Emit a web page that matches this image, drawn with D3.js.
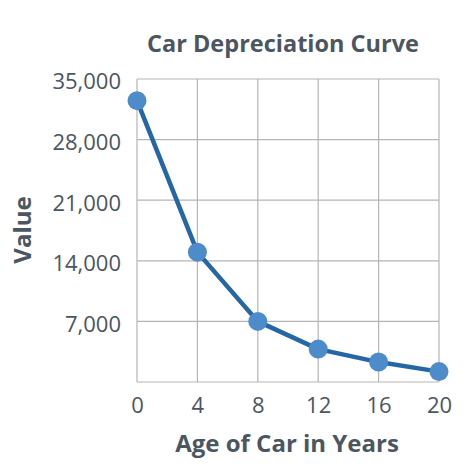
<!DOCTYPE html>
<html>
<head>
<meta charset="utf-8">
<script src="https://cdn.jsdelivr.net/npm/d3@7"></script>
<style>
  body { margin: 0; background: #fff; }
  text { font-family: "Open Sans", Lato, sans-serif; fill: #4b5661; }
</style>
</head>
<body>
<svg id="chart" width="474" height="474"></svg>
<script>
// chart data
const years = [0, 4, 8, 12, 16, 20];
const values = [32500, 15000, 7000, 3800, 2300, 1200];
const yTicks = [7000, 14000, 21000, 28000, 35000];
const xTicks = [0, 4, 8, 12, 16, 20];

const svg = d3.select("#chart");

const margin = { top: 79, right: 35, bottom: 92, left: 137 },
  width = 474 - margin.left - margin.right,
  height = 474 - margin.top - margin.bottom;

const x = d3.scaleLinear().domain([0, 20]).range([0, width]);
const y = d3.scaleLinear().domain([0, 35000]).range([height, 0]);

const g = svg.append("g")
  .attr("transform", "translate(" + margin.left + "," + margin.top + ")");

// grid lines
g.selectAll(".vgrid")
  .data(xTicks)
  .enter().append("line")
  .attr("x1", d => x(d)).attr("x2", d => x(d))
  .attr("y1", 0).attr("y2", height)
  .attr("stroke", "#b5b5b5").attr("stroke-width", 1.2);

g.selectAll(".hgrid")
  .data([0].concat(yTicks))
  .enter().append("line")
  .attr("x1", 0).attr("x2", width)
  .attr("y1", d => y(d)).attr("y2", d => y(d))
  .attr("stroke", "#b5b5b5").attr("stroke-width", 1.2);

// axes (labels only)
const yAxisG = g.append("g")
  .call(d3.axisLeft(y).tickValues(yTicks).tickSize(0).tickPadding(16).tickFormat(d3.format(",")));
yAxisG.select(".domain").remove();
yAxisG.selectAll("text")
  .attr("dy", "0.45em")
  .style("font-size", "22px")
  .style("font-family", "'Open Sans', Lato, sans-serif")
  .attr("fill", "#4b5661");

const xAxisG = g.append("g")
  .attr("transform", "translate(0," + height + ")")
  .call(d3.axisBottom(x).tickValues(xTicks).tickSize(0).tickPadding(15));
xAxisG.select(".domain").remove();
xAxisG.selectAll("text")
  .style("font-size", "22px")
  .style("font-family", "'Open Sans', Lato, sans-serif")
  .attr("fill", "#4b5661");

// line
const pts = years.map((yr, i) => ({ yr: yr, v: values[i] }));

const line = d3.line()
  .x(d => x(d.yr))
  .y(d => y(d.v));

g.append("path")
  .datum(pts)
  .attr("fill", "none")
  .attr("stroke", "#2566a6")
  .attr("stroke-width", 4.5)
  .attr("stroke-linejoin", "round")
  .attr("d", line);

g.selectAll(".dot")
  .data(pts)
  .enter().append("circle")
  .attr("cx", d => x(d.yr))
  .attr("cy", d => y(d.v))
  .attr("r", 9.5)
  .attr("fill", "#4d8bca");

// titles
svg.append("text")
  .attr("x", 283).attr("y", 52)
  .attr("text-anchor", "middle")
  .style("font-size", "23.5px")
  .style("font-weight", "bold")
  .text("Car Depreciation Curve");

svg.append("text")
  .attr("x", 287).attr("y", 452)
  .attr("text-anchor", "middle")
  .style("font-size", "24px")
  .style("font-weight", "bold")
  .text("Age of Car in Years");

svg.append("text")
  .attr("transform", "translate(31,230) rotate(-90)")
  .attr("text-anchor", "middle")
  .style("font-size", "24px")
  .style("font-weight", "bold")
  .text("Value");
</script>
</body>
</html>
